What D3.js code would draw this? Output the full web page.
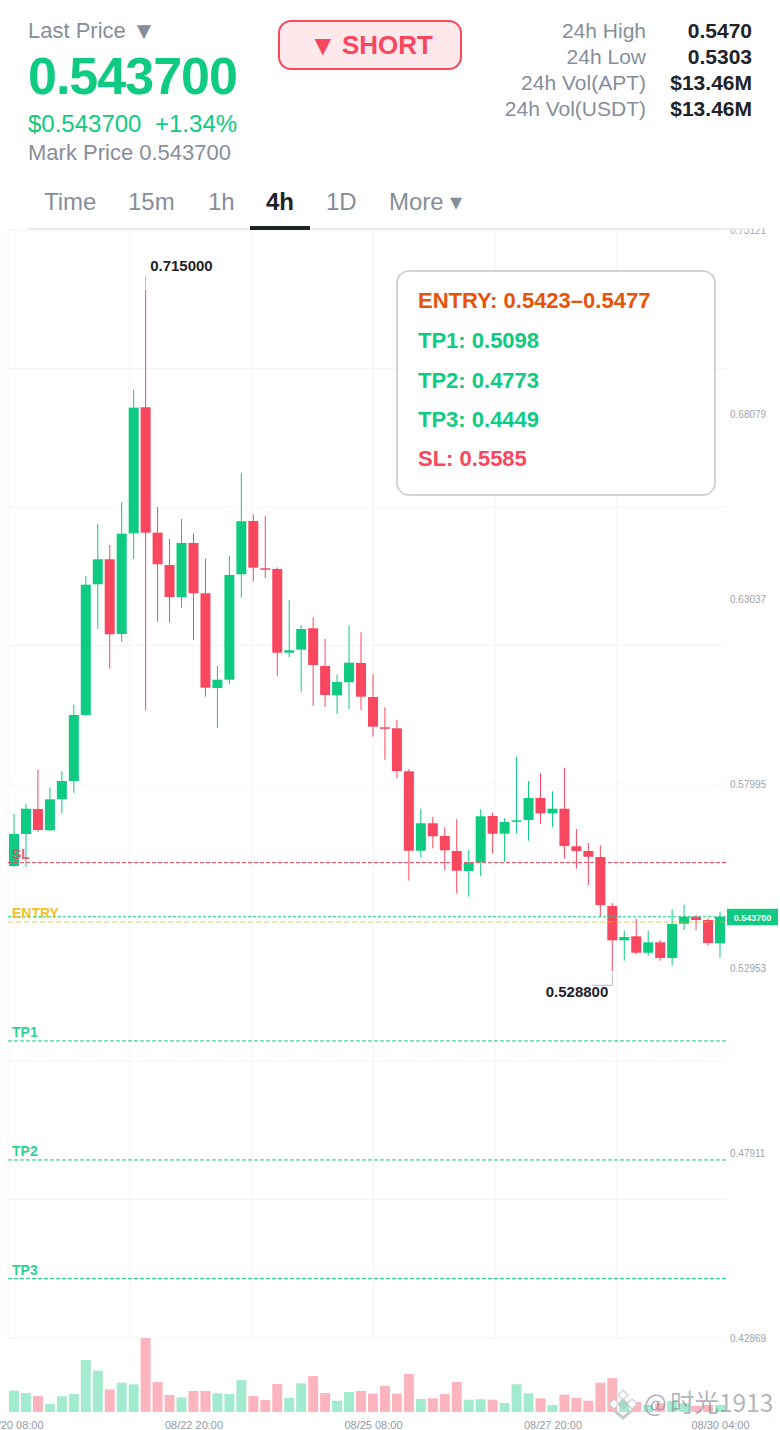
<!DOCTYPE html>
<html>
<head>
<meta charset="utf-8">
<script src="https://cdn.jsdelivr.net/npm/d3@7"></script>
<style>
  html, body { margin: 0; padding: 0; background: #fff; }
  svg { display: block; }
  text { font-family: "Liberation Sans", Arial, sans-serif; }
</style>
</head>
<body>
<div id="svg"></div>
<script>
// candles, oldest first (4h)
var opens = [.55756,.56630,.57312,.56731,.57577,.58077,.59879,.63448,.64131,.62091,
  .64841,.68282,.64857,.63975,.63101,.64576,.63202,.60616,.60843,.63721,
  .65177,.63885,.63866,.61580,.61662,.62247,.61217,.60417,.60772,.61299,
  .60371,.59543,.59516,.58342,.56174,.56922,.56575,.56165,.55619,.55865,
  .57121,.56638,.56966,.57012,.57613,.57195,.57321,.56294,.56165,.56002,
  .54664,.53727,.53836,.53388,.53672,.53244,.54180,.54371,.54281,.53645];
var highs = [.57176,.57449,.58377,.57905,.58342,.60152,.63675,.65095,.64521,.65687,
  .68754,.71500,.65559,.64685,.65231,.64841,.64147,.61217,.64221,.66479,
  .65360,.65313,.63912,.63019,.62329,.62547,.61955,.60980,.62329,.62137,
  .60999,.60089,.59743,.58405,.57321,.57102,.56813,.57031,.56193,.57304,
  .57211,.57058,.58740,.58077,.58287,.57796,.58440,.56766,.56384,.56321,
  .54745,.53989,.54317,.53989,.53735,.54573,.54699,.54418,.54328,.54508];
var lows = [.55729,.55729,.56692,.56703,.57195,.57749,.59852,.62228,.61144,.61881,
  .64131,.60008,.62427,.62411,.62809,.61927,.60379,.59524,.60718,.63082,
  .63519,.63620,.60952,.61455,.60515,.60125,.60098,.59906,.60043,.60016,
  .59287,.58659,.58140,.55354,.55982,.56239,.55647,.55010,.54917,.55475,
  .56092,.55865,.56638,.56447,.56911,.56813,.55955,.55682,.55237,.54371,
  .52880,.53170,.53345,.53306,.53170,.53033,.54008,.54008,.53579,.53252];
var closes = [.56630,.57321,.56739,.57577,.58077,.59879,.63437,.64131,.62083,.64830,
  .68271,.64857,.63994,.63101,.64576,.63202,.60625,.60843,.63702,.65169,
  .63902,.63858,.61580,.61646,.62228,.61245,.60425,.60780,.61307,.60379,
  .59560,.59505,.58350,.56174,.56922,.56567,.56185,.55628,.55846,.57113,
  .56638,.56957,.57004,.57613,.57195,.57321,.56302,.56165,.56010,.54691,
  .53727,.53817,.53388,.53672,.53244,.54172,.54371,.54281,.53653,.54370];
// volume bars, relative units
var volumes = [21.3,19,16,8,15.7,18,52,41.3,22.7,29.3,
  27.7,74,30,17,14.7,21,21,18.7,18,32,
  16,12,28,14,28.7,36,19,11.3,20,21,
  18.3,26,18.3,38,13,13.7,18,30,12.3,12.7,
  12.3,9,27.7,18.7,13.7,7,17.3,14,11.3,29.3,
  34,10,10,7,8.7,11,8.7,6,7,7];

var timeTickIdx = [0,15,30,45,59];
var timeTickLabels = ["08/20 08:00","08/22 20:00","08/25 08:00","08/27 20:00","08/30 04:00"];
var priceTicks = [.73121,.68079,.63037,.57995,.52953,.47911,.42869];
var gridPrices = [.73121,.69339,.65558,.61776,.57995,.54214,.50432,.46651,.42869];
var gridIdx = [-0.5,9.69,19.85,30.04,40.2,50.39];

var levelNames = ["SL","ENTRY","TP1","TP2","TP3"];
var levelPrices = [.5585,.5423,.5098,.4773,.4449];
var levelColors = ["#f8475f","#f0b90b","#0ecb81","#0ecb81","#0ecb81"];
var lastPrice = .5437;

var tabNames = ["Time","15m","1h","4h","1D","More ▾"];
var tabX = [44,128,208,266,326,389];
var statNames = ["24h High","24h Low","24h Vol(APT)","24h Vol(USDT)"];
var statValues = ["0.5470","0.5303","$13.46M","$13.46M"];
var planLines = ["ENTRY: 0.5423–0.5477","TP1: 0.5098","TP2: 0.4773","TP3: 0.4449","SL: 0.5585"];
var planColors = ["#e8530a","#0ecb81","#0ecb81","#0ecb81","#f8475f"];
var planBase = [308,348,388,427,466];

var green = "#0ecb81", red = "#f8475f", gray = "#868e9b", dark = "#1e2329";

var svg = d3.select("#svg").append("svg")
    .attr("width",780)
    .attr("height",1430);

var x = d3.scaleLinear().domain([0,59]).range([14,720]);
var y = d3.scaleLinear().domain([.42869,.73121]).range([1338,230]);
var v = d3.scaleLinear().domain([0,74]).range([1412,1338]);

function candle_col(i) {
    return closes[i] >= opens[i] ? green : red ;
}

/*--- grid ---*/
var grid = svg.append("g").attr("stroke","#f3f4f5").attr("stroke-width",1);
grid.selectAll("line.h").data(gridPrices).enter().append("line")
    .attr("class","h")
    .attr("x1",8).attr("x2",726)
    .attr("y1",function(d){return y(d);})
    .attr("y2",function(d){return y(d);});
grid.selectAll("line.v").data(gridIdx).enter().append("line")
    .attr("class","v")
    .attr("x1",function(d){return x(d);})
    .attr("x2",function(d){return x(d);})
    .attr("y1",230).attr("y2",1338);

/*--- volume ---*/
svg.append("g").selectAll("rect").data(volumes).enter().append("rect")
    .attr("x",function(d,i){return x(i)-5;})
    .attr("width",10)
    .attr("y",function(d){return v(d);})
    .attr("height",function(d){return v(0)-v(d);})
    .attr("fill",function(d,i){return candle_col(i);})
    .attr("fill-opacity",function(d,i){return candle_col(i)==green ? .38 : .4;});

/*--- axes ---*/
var yAxis = svg.append("g")
    .attr("transform","translate(730,0)")
    .call(d3.axisRight(y).tickValues(priceTicks).tickSize(0).tickPadding(0)
	  .tickFormat(d3.format(".5f")));
yAxis.select(".domain").remove();
yAxis.selectAll("text").attr("font-size",10).attr("fill","#a0a5ad")
    .style("font-family","Liberation Sans");

var xAxis = svg.append("g")
    .attr("transform","translate(0,1412)")
    .call(d3.axisBottom(x).tickValues(timeTickIdx).tickSize(0).tickPadding(9)
	  .tickFormat(function(d,i){return timeTickLabels[i];}));
xAxis.select(".domain").remove();
xAxis.selectAll("text").attr("font-size",11).attr("fill","#939aa6")
    .style("font-family","Liberation Sans");

/*--- candles ---*/
var cg = svg.append("g");
cg.selectAll("line").data(opens).enter().append("line")
    .attr("x1",function(d,i){return x(i);})
    .attr("x2",function(d,i){return x(i);})
    .attr("y1",function(d,i){return y(highs[i]);})
    .attr("y2",function(d,i){return y(lows[i]);})
    .attr("stroke",function(d,i){return candle_col(i);})
    .attr("stroke-width",1);
cg.selectAll("rect").data(opens).enter().append("rect")
    .attr("x",function(d,i){return x(i)-5;})
    .attr("width",10)
    .attr("y",function(d,i){return Math.min(y(opens[i]),y(closes[i]));})
    .attr("height",function(d,i){return Math.max(Math.abs(y(opens[i])-y(closes[i])),1.5);})
    .attr("fill",function(d,i){return candle_col(i);});

/*--- level lines ---*/
var lg = svg.append("g");
lg.selectAll("line").data(levelPrices).enter().append("line")
    .attr("x1",8).attr("x2",726)
    .attr("y1",function(d){return y(d);})
    .attr("y2",function(d){return y(d);})
    .attr("stroke",function(d,i){return levelColors[i];})
    .attr("stroke-opacity",function(d,i){return levelNames[i]=="ENTRY" ? .65 : 1;})
    .attr("stroke-dasharray",function(d,i){return levelNames[i]=="ENTRY" ? "5,3" : "4,2";});
lg.append("line")
    .attr("x1",8).attr("x2",726)
    .attr("y1",y(lastPrice)).attr("y2",y(lastPrice))
    .attr("stroke",green)
    .attr("stroke-dasharray","3,2");
lg.selectAll("text").data(levelNames).enter().append("text")
    .attr("x",12)
    .attr("y",function(d,i){return y(levelPrices[i])-4;})
    .attr("font-size",14)
    .attr("font-weight","bold")
    .attr("fill",function(d,i){return levelColors[i];})
    .attr("fill-opacity",.9)
    .text(function(d){return d;});

// last price tag
svg.append("rect")
    .attr("x",727).attr("width",51)
    .attr("y",y(lastPrice)-8).attr("height",16.5)
    .attr("fill",green);
svg.append("text")
    .attr("x",752.5).attr("y",y(lastPrice)+4.5)
    .attr("text-anchor","middle")
    .attr("font-size",9).attr("font-weight","bold").attr("fill","#fff")
    .text(d3.format(".6f")(lastPrice));

/*--- high / low marks ---*/
var iHigh = d3.maxIndex(highs), iLow = d3.minIndex(lows);
svg.append("line")
    .attr("x1",x(iHigh)).attr("x2",x(iHigh))
    .attr("y1",y(highs[iHigh])-14).attr("y2",y(highs[iHigh])-2)
    .attr("stroke","#b4b8bf");
svg.append("text")
    .attr("x",x(iHigh)+4.5).attr("y",y(highs[iHigh])-18)
    .attr("font-size",15).attr("font-weight","bold").attr("fill",dark)
    .text(d3.format(".6f")(highs[iHigh]));
svg.append("path")
    .attr("d","M"+x(iLow)+","+(y(lows[iLow])+2)+"v12h-20")
    .attr("fill","none")
    .attr("stroke","#b4b8bf");
svg.append("text")
    .attr("x",x(iLow)-4).attr("y",y(lows[iLow])+26)
    .attr("text-anchor","end")
    .attr("font-size",15).attr("font-weight","bold").attr("fill",dark)
    .text(d3.format(".6f")(lows[iLow]));

/*--- plan box ---*/
svg.append("rect")
    .attr("x",397).attr("y",271)
    .attr("width",318).attr("height",224)
    .attr("rx",12)
    .attr("fill","#fff")
    .attr("stroke","#d0d4da")
    .attr("stroke-width",2);
svg.append("g").selectAll("text").data(planLines).enter().append("text")
    .attr("x",418)
    .attr("y",function(d,i){return planBase[i];})
    .attr("font-size",22).attr("font-weight","bold")
    .attr("fill",function(d,i){return planColors[i];})
    .text(function(d){return d;});

/*--- header ---*/
var hd = svg.append("g");
hd.append("rect").attr("width",780).attr("height",228.5).attr("fill","#fff");

function hd_text(txt,tx,ty,size,col,bold,anchor) {
    return hd.append("text")
	.attr("x",tx).attr("y",ty)
	.attr("font-size",size)
	.attr("font-weight",bold ? "bold" : "normal")
	.attr("text-anchor",anchor || "start")
	.attr("fill",col)
	.text(txt);
}

hd_text("Last Price",28,38,22,gray);
hd_text("▼",132,39,24,gray);
hd_text("0.543700",28,94,52,green,true).attr("letter-spacing",-1);
hd_text("$0.543700",28,132,24,green);
hd_text("+1.34%",155,132,24,green);
hd_text("Mark Price 0.543700",28,160,22,gray);

hd.append("rect")
    .attr("x",279).attr("y",21)
    .attr("width",182).attr("height",48)
    .attr("rx",12)
    .attr("fill","#fde8eb")
    .attr("stroke",red)
    .attr("stroke-width",2);
hd_text("▼",309,55,28,red);
hd_text("SHORT",342,54,26,red,true);

statNames.forEach(function(s,i){
    hd_text(s,646,38+26*i,21,gray,false,"end");
    hd_text(statValues[i],752,38+26*i,21,dark,true,"end");
});

tabNames.forEach(function(t,i){
    hd_text(t,tabX[i],210,24,t=="4h" ? dark : gray,t=="4h");
});
hd.append("rect").attr("x",28).attr("y",228).attr("width",724).attr("height",2).attr("fill","#eaecef");
hd.append("rect").attr("x",250).attr("y",226).attr("width",60).attr("height",4).attr("fill",dark);

/*--- watermark ---*/
var wm = svg.append("g");
var logo = wm.append("g").attr("transform","translate(623,1404)");
[[0,-9],[-9,0],[9,0],[0,0]].forEach(function(p){
    logo.append("rect")
	.attr("x",p[0]-3.5).attr("y",p[1]-3.5)
	.attr("width",7).attr("height",7)
	.attr("transform","rotate(45 "+p[0]+" "+p[1]+")")
	.attr("fill",p[1]==0 && p[0]==0 ? "#9fdcc0" : "#fff")
	.attr("stroke","#c4c7cc");
});
logo.append("path")
    .attr("d","M-8,7L0,14L8,7")
    .attr("fill","none")
    .attr("stroke","#c4c7cc")
    .attr("stroke-width",3);
wm.append("text")
    .attr("x",644).attr("y",1412)
    .attr("font-size",24)
    .style("font-family","Noto Sans CJK SC")
    .attr("fill","#7d828c").attr("fill-opacity",.6)
    .text("@");
wm.append("text")
    .attr("x",670).attr("y",1412)
    .attr("font-size",24.5)
    .style("font-family","Noto Sans CJK SC")
    .attr("fill","#7d828c").attr("fill-opacity",.6)
    .text("时光1913");
</script>
</body>
</html>
